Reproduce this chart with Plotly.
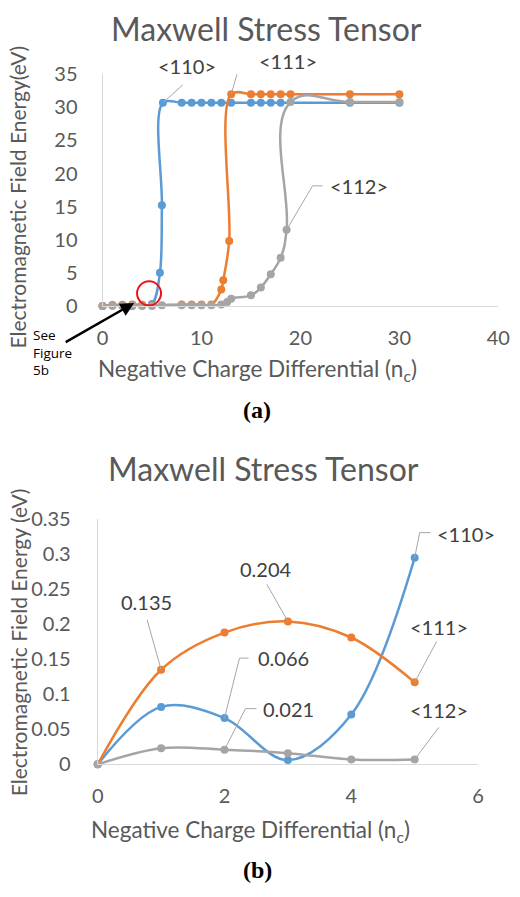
import plotly.graph_objects as go

# ---------------- data: panel (a) ----------------
a_x_110 = [0, 1, 2, 3, 4, 5, 5.8, 6, 6.1, 8, 9, 10, 11, 12, 13, 15, 16, 17, 18, 25, 30]
a_y_110 = [0, 0.082, 0.066, 0.005, 0.07, 0.295, 5.0, 15.2, 30.7, 30.7, 30.7, 30.7, 30.7,
           30.7, 30.7, 30.7, 30.7, 30.7, 30.7, 30.7, 30.7]
a_x_111 = [0, 1, 2, 3, 4, 5, 8, 9, 10, 11, 12, 12.2, 12.8, 13, 15, 16, 17, 18, 19, 25, 30]
a_y_111 = [0, 0.135, 0.187, 0.204, 0.18, 0.117, 0.2, 0.2, 0.2, 0.2, 2.5, 3.9, 9.8, 32.0,
           32.0, 32.0, 32.0, 32.0, 32.0, 32.0, 32.0]
a_x_112 = [0, 1, 2, 3, 4, 5, 6, 8, 9, 10, 11, 12, 12.6, 13, 15, 16, 17, 18, 18.6, 19, 25, 30]
a_y_112 = [0, 0.023, 0.021, 0.016, 0.007, 0.007, 0.1, 0.1, 0.1, 0.1, 0.1, 0.2, 0.6, 1.1,
           1.6, 2.8, 4.8, 7.3, 11.5, 30.8, 30.8, 30.8]

a_xticks = [0, 10, 20, 30, 40]
a_yticks = [0, 5, 10, 15, 20, 25, 30, 35]

# ---------------- data: panel (b) ----------------
b_x = [0, 1, 2, 3, 4, 5]
b_y_110 = [0, 0.082, 0.066, 0.006, 0.071, 0.295]
b_y_111 = [0, 0.135, 0.188, 0.204, 0.181, 0.117]
b_y_112 = [0, 0.023, 0.021, 0.016, 0.007, 0.007]

b_xticks = [0, 2, 4, 6]
b_yticks = [0, 0.05, 0.1, 0.15, 0.2, 0.25, 0.3, 0.35]
b_ytext = ["0", "0.05", "0.1", "0.15", "0.2", "0.25", "0.3", "0.35"]

series_names = ["<110>", "<111>", "<112>"]
colors = ["#5B9BD5", "#ED7D31", "#A5A5A5"]

W, H = 520, 897
FONT = "Lato"
TXT = "#595959"
LEAD = "#A6A6A6"


def px_x(p):
    return p / W


def px_y(p):
    return 1 - p / H


fig = go.Figure()

a_series = [(a_x_110, a_y_110), (a_x_111, a_y_111), (a_x_112, a_y_112)]
a_smooth = [1.0, 1.0, 1.3]
for (xs, ys), c, n, sm in zip(a_series, colors, series_names, a_smooth):
    fig.add_trace(go.Scatter(x=xs, y=ys, mode="lines+markers", name=n,
                             line=dict(color=c, width=2.5, shape="spline", smoothing=sm),
                             marker=dict(color=c, size=8), cliponaxis=False,
                             xaxis="x", yaxis="y"))

b_series = [b_y_110, b_y_111, b_y_112]
for ys, c, n in zip(b_series, colors, series_names):
    fig.add_trace(go.Scatter(x=b_x, y=ys, mode="lines+markers", name=n,
                             line=dict(color=c, width=2.5, shape="spline", smoothing=1.0),
                             marker=dict(color=c, size=8), cliponaxis=False,
                             xaxis="x2", yaxis="y2"))

axis_common = dict(showgrid=False, zeroline=False, showline=True, linecolor="#D9D9D9",
                   linewidth=1, ticks="", tickfont=dict(family=FONT, size=20, color=TXT),
                   fixedrange=True)

fig.update_layout(
    width=W, height=H, margin=dict(l=0, r=0, t=0, b=0),
    paper_bgcolor="white", plot_bgcolor="white", showlegend=False,
    xaxis=dict(domain=[px_x(100), px_x(510)], range=[0, 40], tickvals=a_xticks,
               anchor="y", ticklabelstandoff=14, **axis_common),
    yaxis=dict(domain=[px_y(301), px_y(63)], range=[0, 35], tickvals=a_yticks,
               anchor="x", ticklabelstandoff=20, **axis_common),
    xaxis2=dict(domain=[px_x(95), px_x(489)], range=[0, 6], tickvals=b_xticks,
                anchor="y2", ticklabelstandoff=14, **axis_common),
    yaxis2=dict(domain=[px_y(772), px_y(520)], range=[0, 0.35], tickvals=b_yticks,
                ticktext=b_ytext, anchor="x2", ticklabelstandoff=22, **axis_common),
)

ann = []
shapes = []


def paper_text(text, x, y, size, color=TXT, family=FONT, angle=0, **kw):
    ann.append(dict(text=text, x=px_x(x), y=px_y(y), xref="paper", yref="paper",
                    showarrow=False, textangle=angle, xanchor=kw.get("xanchor", "center"),
                    yanchor="middle", align=kw.get("align", "center"),
                    font=dict(family=family, size=size, color=color)))


# titles, axis titles, captions
paper_text("Maxwell Stress Tensor", 270, 16, 32)
paper_text("Electromagnetic Field Energy(eV)", 12, 189, 21, angle=-90)
paper_text("Negative Charge Differential (n<sub>c</sub>)", 260, 367, 22.5)
paper_text("<b>(a)</b>", 260, 408, 24, color="#000000", family="Liberation Serif")

paper_text("Maxwell Stress Tensor", 267, 468, 32)
paper_text("Electromagnetic Field Energy (eV)", 13, 647, 21, angle=-90)
paper_text("Negative Charge Differential (n<sub>c</sub>)", 253, 840, 22.5)
paper_text("<b>(b)</b>", 260, 881, 24, color="#000000", family="Liberation Serif")

paper_text("See<br>Figure<br>5b", 26, 349, 13.5, color="#000000",
           family="Open Sans", xanchor="left", align="left")


def leader(xr, yr, px_, py_, pts, label, lx, ly):
    """pts: list of (dx, dy_up) pixel offsets from the data point forming the leader."""
    chain = [(0, 0)] + pts
    for (x0, y0), (x1, y1) in zip(chain[:-1], chain[1:]):
        shapes.append(dict(type="line", xref=xr, yref=yr, xsizemode="pixel",
                           ysizemode="pixel", xanchor=px_, yanchor=py_,
                           x0=x0, y0=y0, x1=x1, y1=y1,
                           line=dict(color=LEAD, width=1)))
    ann.append(dict(text=label, x=px_, y=py_, xref=xr, yref=yr, showarrow=False,
                    xshift=lx, yshift=ly, font=dict(family=FONT, size=20, color="#404040")))


# panel (a) labels
leader("x", "y", a_x_110[8], a_y_110[8], [(20, 18)], "&lt;110&gt;", 24, 37)
leader("x", "y", a_x_111[13], a_y_111[13], [(10, 34), (22, 34)], "&lt;111&gt;", 57, 33)
leader("x", "y", a_x_112[18], a_y_112[18], [(26, 44), (36, 44)], "&lt;112&gt;", 72, 44)

# panel (b) labels
leader("x2", "y2", b_x[5], b_y_110[5], [(5, 25), (16, 25)], "&lt;110&gt;", 51, 24)
leader("x2", "y2", b_x[3], b_y_111[3], [(-21, 37)], f"{b_y_111[3]:.3f}", -22, 52)
leader("x2", "y2", b_x[1], b_y_111[1], [(-14, 50)], f"{b_y_111[1]:.3f}", -15, 68)
leader("x2", "y2", b_x[2], b_y_110[2], [(15, 60), (24, 60)], f"{b_y_110[2]:.3f}", 59, 60)
leader("x2", "y2", b_x[2], b_y_112[2], [(21, 41), (32, 41)], f"{b_y_112[2]:.3f}", 64, 41)
leader("x2", "y2", b_x[5], b_y_111[5], [(22, 41)], "&lt;111&gt;", 24, 55)
leader("x2", "y2", b_x[5], b_y_112[5], [(24, 32)], "&lt;112&gt;", 24, 49)

# red circle highlighting the low region in (a)
shapes.append(dict(type="circle", xref="x", yref="y", xsizemode="pixel", ysizemode="pixel",
                   xanchor=4.7, yanchor=1.9, x0=-12, x1=12, y0=-12, y1=12,
                   line=dict(color="#E8141B", width=2)))

# black arrow "See Figure 5b"
ann.append(dict(text="", x=3.2, y=0.45, xref="x", yref="y", showarrow=True,
                ax=-70, ay=40, arrowhead=2, arrowsize=1.1, arrowwidth=2.5,
                arrowcolor="#000000", standoff=0))

fig.update_layout(annotations=ann, shapes=shapes)
fig.write_html("out.html")
